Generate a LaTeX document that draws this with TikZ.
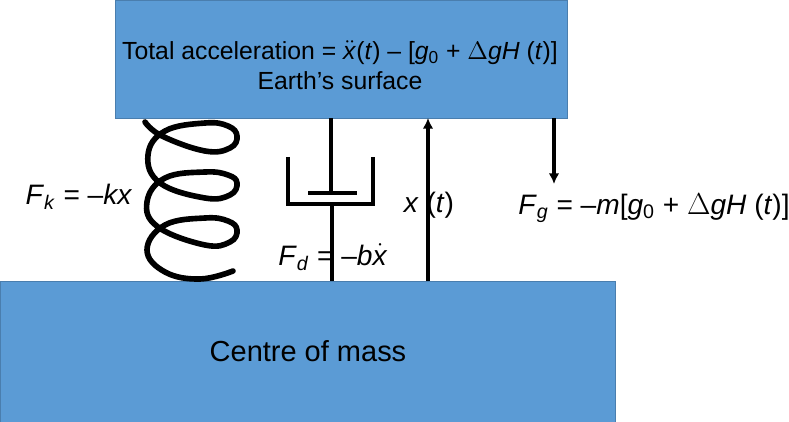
\documentclass[tikz,border=0pt]{standalone}
\usepackage{amsmath}
\usepackage{fontspec}
\usetikzlibrary{arrows.meta}
\setmainfont{Liberation Sans}
\definecolor{boxblue}{HTML}{5B9BD5}
\definecolor{boxedge}{HTML}{4A7EAE}
\newcommand{\vi}[1]{\textit{#1}}
\newcommand{\vsub}[1]{$_{\text{#1}}$}
\tikzset{
    block/.style={draw=boxedge, fill=boxblue, line width=0.6pt, inner sep=0pt, anchor=north west},
    forcelabel/.style={font=\fontsize{16}{19}\selectfont, inner sep=0pt},
    rod/.style={line width=1.8pt},
    push/.style={line width=1.8pt, -{Latex[length=6pt, width=6pt]}}
}

\begin{document}
\begin{tikzpicture}[x=0.02cm, y=-0.02cm]
        \useasboundingbox (0, 0) rectangle (789, 422);

        \node[block, minimum width=9.04cm, minimum height=2.36cm] (earth) at (115, 0) {};
        \node[block, minimum width=12.3cm, minimum height=2.82cm] (mass) at (0, 281) {};

        \node[font=\fontsize{14.1}{17}\selectfont, align=center, inner sep=0pt] (accel) at (340, 65)
            {Total acceleration = $\ddot{\hbox{\vi{x}}}$(\vi{t}) -- [\vi{g}\vsub{0} + $\Delta$\vi{gH} (\vi{t})]\\Earth’s surface};
        \node[font=\fontsize{16.5}{19}\selectfont, inner sep=0pt] (centre) at (308, 351) {Centre of mass};

        % spring
        \draw[line width=3.2pt, line cap=round] plot[smooth, tension=0.7] coordinates {
            (145, 122) (162, 136) (205, 151) (230, 148) (237, 136) (228, 126) (205, 123) (165, 131)
            (148, 155) (160, 183) (205, 198) (230, 195) (237, 183) (228, 175) (205, 172) (165, 178)
            (147, 202) (158, 227) (205, 245) (230, 242) (237, 230) (228, 221) (205, 218) (165, 225)
            (147, 250) (165, 272) (200, 279) (233, 271)
        };

        % damper
        \coordinate (rod-top) at (331, 118);
        \coordinate (piston) at (331, 193);
        \coordinate (piston-l) at (308, 193);
        \coordinate (piston-r) at (357, 193);
        \coordinate (cup-tl) at (288, 157);
        \coordinate (cup-bl) at (288, 204);
        \coordinate (cup-br) at (373, 204);
        \coordinate (cup-tr) at (373, 157);
        \coordinate (rod-top2) at (332, 204);
        \coordinate (rod-bot) at (332, 281);
        \draw[rod] (rod-top) -- (piston);
        \draw[rod] (piston-l) -- (piston-r);
        \draw[rod] (cup-tl) -- (cup-bl) -- (cup-br) -- (cup-tr);
        \draw[rod] (rod-top2) -- (rod-bot);

        % x(t) and gravity
        \coordinate (xt-bot) at (428, 281);
        \coordinate (xt-top) at (428, 118);
        \coordinate (fg-top) at (554, 118);
        \coordinate (fg-bot) at (554, 184);
        \draw[push] (xt-bot) -- (xt-top);
        \draw[push] (fg-top) -- (fg-bot);

        \node[forcelabel] (Fk) at (79, 197) {\vi{F}\vsub{\vi{k}} = --\vi{kx}};
        \node[forcelabel] (Fd) at (333, 257) {\vi{F}\vsub{\vi{d}} = --\vi{b}$\dot{\hbox{\vi{x}}}$};
        \node[forcelabel] (xt) at (429, 205) {\vi{x} (\vi{t})};
        \node[forcelabel] (Fg) at (654, 208) {\vi{F}\vsub{\vi{g}} = --\vi{m}[\vi{g}\vsub{0} + $\Delta$\vi{gH} (\vi{t})]};
\end{tikzpicture}
\end{document}
